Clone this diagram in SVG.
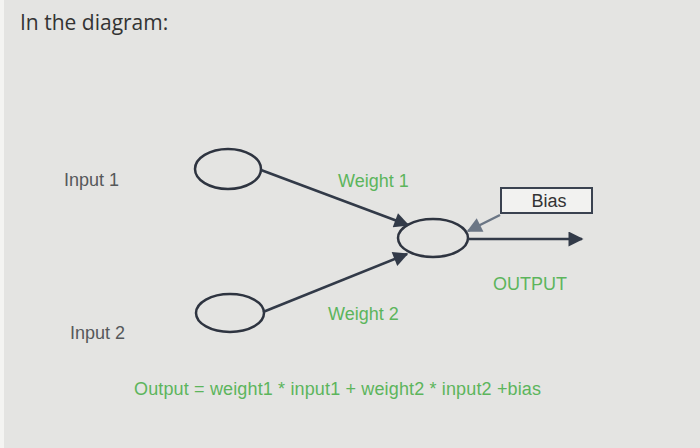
<svg xmlns="http://www.w3.org/2000/svg" width="700" height="448" viewBox="0 0 700 448">
<defs>
<style>
.n{fill:none;stroke:#2e3440;stroke-width:2.5}
.g{fill:#5cb55c;font-family:"Liberation Sans",Arial,sans-serif;font-size:18px}
.l{fill:#55585a;font-family:"Liberation Sans",Arial,sans-serif;font-size:18px}
.c{stroke:#323a48;stroke-width:2.5;fill:none}
</style>
<marker id="ab" viewBox="0 0 10 10" refX="9" refY="5" markerWidth="7" markerHeight="6" orient="auto"><path d="M0,0L10,5L0,10z" fill="#323a48"/></marker>
<marker id="ag" viewBox="0 0 10 10" refX="9" refY="5" markerWidth="7" markerHeight="6" orient="auto"><path d="M0,0L10,5L0,10z" fill="#6b7685"/></marker>
</defs>
<rect width="700" height="448" fill="#e4e4e2"/>
<rect width="4" height="448" fill="#f4f4f2"/>
<text x="20" y="30" font-family="'Open Sans','Liberation Sans',sans-serif" font-size="21" fill="#333">In the diagram:</text>
<g id="input1"><ellipse class="n" cx="228" cy="169" rx="33" ry="20"/><text class="l" x="64" y="186">Input 1</text></g>
<g id="input2"><ellipse class="n" cx="230" cy="313" rx="34" ry="19"/><text class="l" x="70" y="339">Input 2</text></g>
<g id="sum"><ellipse class="n" cx="433" cy="238" rx="35" ry="19"/></g>
<g id="bias"><rect x="501" y="188" width="91" height="25" fill="#f2f2f0" stroke="#3a4250" stroke-width="2"/><text x="549" y="207" text-anchor="middle" font-family="'Liberation Sans',Arial,sans-serif" font-size="18" fill="#333">Bias</text></g>
<g id="connectors">
<line class="c" x1="261" y1="170" x2="408" y2="225" marker-end="url(#ab)"/>
<line class="c" x1="263" y1="312" x2="407" y2="254" marker-end="url(#ab)"/>
<line x1="500" y1="215" x2="468" y2="231" stroke="#6b7685" stroke-width="2.5" marker-end="url(#ag)"/>
<line class="c" x1="468" y1="239" x2="582" y2="239" marker-end="url(#ab)"/>
</g>
<g id="labels">
<text class="g" x="338" y="187">Weight 1</text>
<text class="g" x="328" y="320">Weight 2</text>
<text class="g" x="493" y="290">OUTPUT</text>
<text class="g" x="134" y="395" textLength="407">Output = weight1 * input1 + weight2 * input2 +bias</text>
</g>
</svg>
